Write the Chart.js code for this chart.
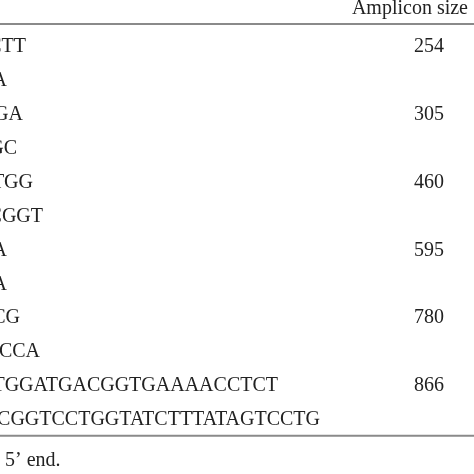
<!DOCTYPE html>
<html><head><meta charset="utf-8">
<script src="https://cdn.jsdelivr.net/npm/chart.js@4"></script>
<style>html,body{margin:0;padding:0;background:#fff}#w{width:474px;height:474px}</style>
</head><body><div id="w"><canvas id="c"></canvas></div>
<script>
const headerLabel = "Amplicon size";
const primerFragments = ["GCTT","GA","TGA","GGC","CTGG","CCGGT","GA","GA","ACG","GCCA","CTGGATGACGGTGAAAACCTCT","CCGGTCCTGGTATCTTTATAGTCCTG"];
const primerRightEdge = [26,7,23,17,33,43,7,7,20,40,278,320];
const ampliconSizes = ["254","","305","","460","","595","","780","","866",""];
const footnote = "5\u2019 end.";
const rows = primerFragments.map((_, i) => i + 1);
const FONT = '20px "Liberation Serif", "Times New Roman", serif';
const textPlugin = {
  id: 'tableText',
  afterDatasetsDraw(chart) {
    const ctx = chart.ctx;
    ctx.save();
    ctx.font = FONT; ctx.fillStyle = '#222'; ctx.textBaseline = 'middle';
    chart.data.datasets.forEach((ds, di) => {
      if (!ds.texts) return;
      const meta = chart.getDatasetMeta(di);
      meta.data.forEach((pt, i) => {
        const t = ds.texts[i]; if (!t) return;
        ctx.textAlign = ds.align;
        ctx.fillText(t, pt.x, pt.y);
      });
    });
    ctx.restore();
  }
};
new Chart(document.getElementById('c'), {
  type: 'scatter',
  data: { datasets: [
    { texts: primerFragments, align: 'right', data: rows.map((r, i) => ({x: primerRightEdge[i], y: r})), pointRadius: 0 },
    { texts: ampliconSizes, align: 'right', data: rows.map(r => ({x: 444, y: r})), pointRadius: 0 },
    { texts: [headerLabel], align: 'right', data: [{x: 468, y: -0.12}], pointRadius: 0 },
    { texts: [footnote], align: 'left', data: [{x: 5, y: 13.21}], pointRadius: 0 },
    { type: 'line', data: [{x: 0, y: 0.32}, {x: 474, y: 0.32}], borderColor: '#8a8a8a', borderWidth: 2, pointRadius: 0 },
    { type: 'line', data: [{x: 0, y: 12.47}, {x: 474, y: 12.47}], borderColor: '#8a8a8a', borderWidth: 2, pointRadius: 0 }
  ]},
  options: {
    responsive: true, maintainAspectRatio: false, animation: false,
    layout: { padding: 0 },
    plugins: { legend: { display: false }, tooltip: { enabled: false } },
    scales: {
      x: { type: 'linear', min: 0, max: 474, display: false },
      y: { type: 'linear', min: -0.386, max: 13.596, reverse: true, display: false }
    }
  },
  plugins: [textPlugin]
});
</script></body></html>
